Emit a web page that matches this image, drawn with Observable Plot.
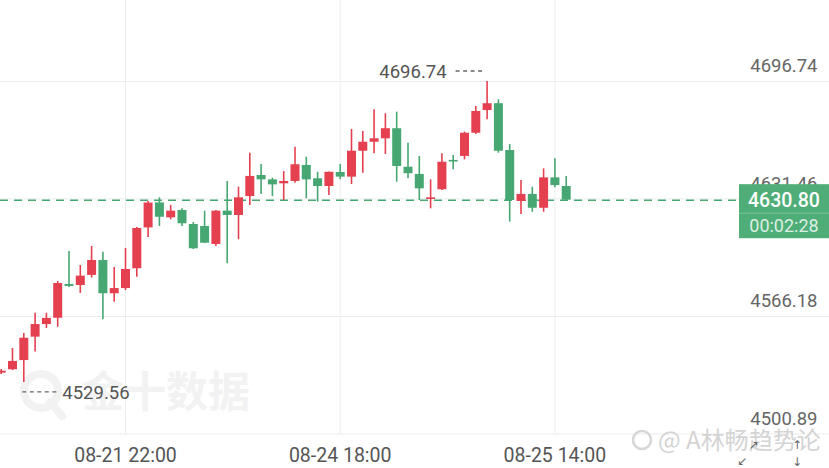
<!DOCTYPE html>
<html><head><meta charset="utf-8">
<script src="https://cdn.jsdelivr.net/npm/d3@7"></script>
<script src="https://cdn.jsdelivr.net/npm/@observablehq/plot@0.6"></script>
<style>html,body{margin:0;padding:0;background:#fff;overflow:hidden}#chart svg{display:block}</style>
</head><body><div id="chart"></div>
<script>
// Hourly candles (index 0..50)
const opens  = [4534.7,4536.6,4541.7,4554.7,4561.7,4565.2,4584.0,4583.4,4589.0,4597.3,4578.8,4581.7,4592.7,4615.4,4629.3,4621.0,4625.1,4617.3,4616.2,4606.2,4624.7,4622.3,4632.8,4644.5,4642.1,4639.9,4641.2,4650.1,4642.7,4638.4,4646.2,4643.6,4658.0,4663.0,4664.9,4670.5,4649.1,4645.1,4631.2,4636.6,4652.9,4655.1,4668.0,4680.6,4684.4,4658.4,4630.1,4634.0,4626.3,4643.2,4638.4];
const highs  = [4536.7,4548.4,4556.7,4568.0,4568.0,4585.6,4602.3,4594.5,4605.1,4601.9,4593.4,4604.0,4615.6,4630.1,4632.1,4627.9,4626.0,4618.4,4624.7,4625.1,4641.2,4638.0,4656.9,4650.6,4643.0,4646.7,4660.2,4654.7,4646.3,4646.5,4650.6,4670.1,4669.0,4681.0,4678.8,4679.7,4662.5,4655.1,4642.1,4656.6,4655.6,4668.6,4682.9,4696.74,4686.6,4661.7,4641.7,4638.0,4648.2,4653.8,4644.0];
const lows   = [4534.0,4536.1,4529.56,4546.4,4559.5,4560.2,4582.3,4579.0,4587.5,4564.4,4574.1,4580.6,4588.0,4610.1,4616.2,4619.9,4616.2,4603.4,4606.7,4605.1,4595.5,4608.8,4627.9,4633.9,4632.8,4630.6,4640.2,4631.6,4629.7,4633.4,4642.1,4639.5,4645.8,4656.6,4656.2,4640.8,4642.7,4630.6,4626.0,4636.2,4647.7,4653.2,4667.3,4675.5,4656.9,4618.6,4622.8,4624.1,4624.1,4637.7,4630.6];
const closes = [4535.8,4541.2,4554.1,4561.7,4565.1,4584.5,4582.9,4588.6,4597.3,4578.8,4581.7,4592.3,4615.1,4629.2,4621.3,4624.7,4617.7,4603.8,4606.9,4624.7,4622.3,4632.1,4644.0,4642.1,4639.3,4641.2,4650.5,4642.1,4638.4,4646.3,4643.6,4658.0,4663.0,4664.9,4670.5,4649.5,4645.5,4637.1,4632.0,4651.9,4652.0,4668.0,4680.1,4684.4,4658.0,4630.6,4634.0,4626.3,4643.2,4638.9,4630.80];

const xTickIndex  = [11, 30, 49];
const xTickLabels = ["08-21 22:00", "08-24 18:00", "08-25 14:00"];
const yTicks      = [4696.74, 4631.46, 4566.18, 4500.89];
const highLabel = "4696.74", highIndex = 43;
const lowLabel  = "4529.56", lowIndex = 2;
const lastPrice = "4630.80", countdown = "00:02:28";

const RED = "#e5404f", GREEN = "#46a772", BOXGREEN = "#4fae78";
const candles = opens.map((o, i) => ({i, o, h: highs[i], l: lows[i], c: closes[i], up: closes[i] >= o}));

function watermark(index, scales, values, dims) {
  const g = d3.create("svg:g").attr("text-anchor", "start");
  g.append("circle").attr("cx", 41).attr("cy", 391).attr("r", 17)
    .attr("fill", "none").attr("stroke", "#f2f2f2").attr("stroke-width", 8);
  g.append("line").attr("x1", 50).attr("y1", 402).attr("x2", 62).attr("y2", 416)
    .attr("stroke", "#f2f2f2").attr("stroke-width", 8).attr("stroke-linecap", "round");
  g.append("text").attr("x", 82).attr("y", 392).attr("dy", "0.36em")
    .attr("font-family", "Noto Sans CJK SC").attr("font-weight", 700).attr("font-size", 42)
    .attr("fill", "#f2f2f2").text("金十数据");
  return g.node();
}

function overlay(index, scales, values, dims) {
  const x = scales.x, y = scales.y;
  const g = d3.create("svg:g").attr("font-family", "Roboto").attr("text-anchor", "start");
  // high annotation
  const hx = x(highIndex), hy = y(+highLabel);
  g.append("text").attr("x", hx - 40).attr("y", hy - 10).attr("dy", "0.36em")
    .attr("text-anchor", "end").attr("font-size", 18.5).attr("fill", "#555").text(highLabel);
  g.append("line").attr("x1", hx - 31).attr("x2", hx - 3).attr("y1", hy - 10).attr("y2", hy - 10)
    .attr("stroke", "#666").attr("stroke-width", 1.3).attr("stroke-dasharray", "4,3.5");
  // low annotation
  const lx = x(lowIndex), ly = y(+lowLabel);
  g.append("line").attr("x1", lx - 1).attr("x2", lx + 36).attr("y1", ly + 10).attr("y2", ly + 10)
    .attr("stroke", "#666").attr("stroke-width", 1.3).attr("stroke-dasharray", "4,3.5");
  g.append("text").attr("x", lx + 39).attr("y", ly + 10).attr("dy", "0.36em")
    .attr("font-size", 18.5).attr("fill", "#555").text(lowLabel);
  // price box
  const py = y(+lastPrice);
  g.append("rect").attr("x", 739).attr("y", py - 15.5).attr("width", 90).attr("height", 54).attr("fill", BOXGREEN);
  g.append("line").attr("x1", 739).attr("x2", 829).attr("y1", py + 13.5).attr("y2", py + 13.5)
    .attr("stroke", "#7cc39a").attr("stroke-width", 1);
  g.append("text").attr("x", 784).attr("y", py + 0.5).attr("dy", "0.36em").attr("text-anchor", "middle")
    .attr("font-size", 19.5).attr("font-weight", 500).attr("fill", "#fff").text(lastPrice);
  g.append("text").attr("x", 784).attr("y", py + 26).attr("dy", "0.36em").attr("text-anchor", "middle")
    .attr("font-size", 18).attr("fill", "#dcefe3").text(countdown);
  // weibo watermark
  const w = g.append("g");
  w.append("circle").attr("cx", 642).attr("cy", 440).attr("r", 9).attr("fill", "none").attr("stroke", "#d6d6d6").attr("stroke-width", 2.5);
  w.append("text").attr("x", 658).attr("y", 440).attr("dy", "0.36em").attr("font-family", "Noto Sans CJK SC")
    .attr("font-size", 24).attr("fill", "#d4d4d4").text("@ A林畅趋势论");
  const ar = [["↗", 754, 445], ["↙", 742, 461], ["↑", 797, 445], ["↓", 797, 462]];
  ar.forEach(([t, ax, ay]) => w.append("text").attr("x", ax).attr("y", ay).attr("dy", "0.36em")
    .attr("text-anchor", "middle").attr("font-family", "DejaVu Sans").attr("font-size", 12).attr("fill", "#666").text(t));
  return g.node();
}

const chart = Plot.plot({
  width: 829, height: 468,
  marginLeft: 0, marginRight: 0, marginTop: 0, marginBottom: 34.5,
  style: {fontFamily: "Roboto", background: "#fff"},
  x: {domain: [0, 50], range: [0.7, 565.7], axis: null},
  y: {domain: [4500.89, 4696.74], range: [433.5, 81], axis: null},
  marks: [
    watermark,
    Plot.ruleX(xTickIndex, {x: d => d, stroke: "#ececec", strokeWidth: 1}),
    Plot.ruleY(yTicks, {y: d => d, stroke: "#ececec", strokeWidth: 1}),
    Plot.text(yTicks, {y: d => d, text: d => d.toFixed(2), frameAnchor: "right", textAnchor: "end", dx: -12, dy: -15, fontSize: 18.5, fill: "#666"}),
    Plot.text(xTickIndex, {x: d => d, text: (d, i) => xTickLabels[i], frameAnchor: "bottom", lineAnchor: "middle", dy: 22, fontSize: 19.5, fill: "#555"}),
    Plot.ruleY([+lastPrice], {y: d => d, stroke: GREEN, strokeWidth: 1.6, strokeDasharray: "8,6"}),
    Plot.ruleX(candles, {x: "i", y1: "l", y2: "h", stroke: d => d.up ? RED : GREEN, strokeWidth: 1.6}),
    Plot.ruleX(candles, {x: "i", y1: "o", y2: d => Math.abs(d.c - d.o) < 0.9 ? d.o + (d.up ? 0.9 : -0.9) : d.c, stroke: d => d.up ? RED : GREEN, strokeWidth: 9}),
    overlay
  ]
});
document.getElementById("chart").appendChild(chart);
</script>
</body></html>
